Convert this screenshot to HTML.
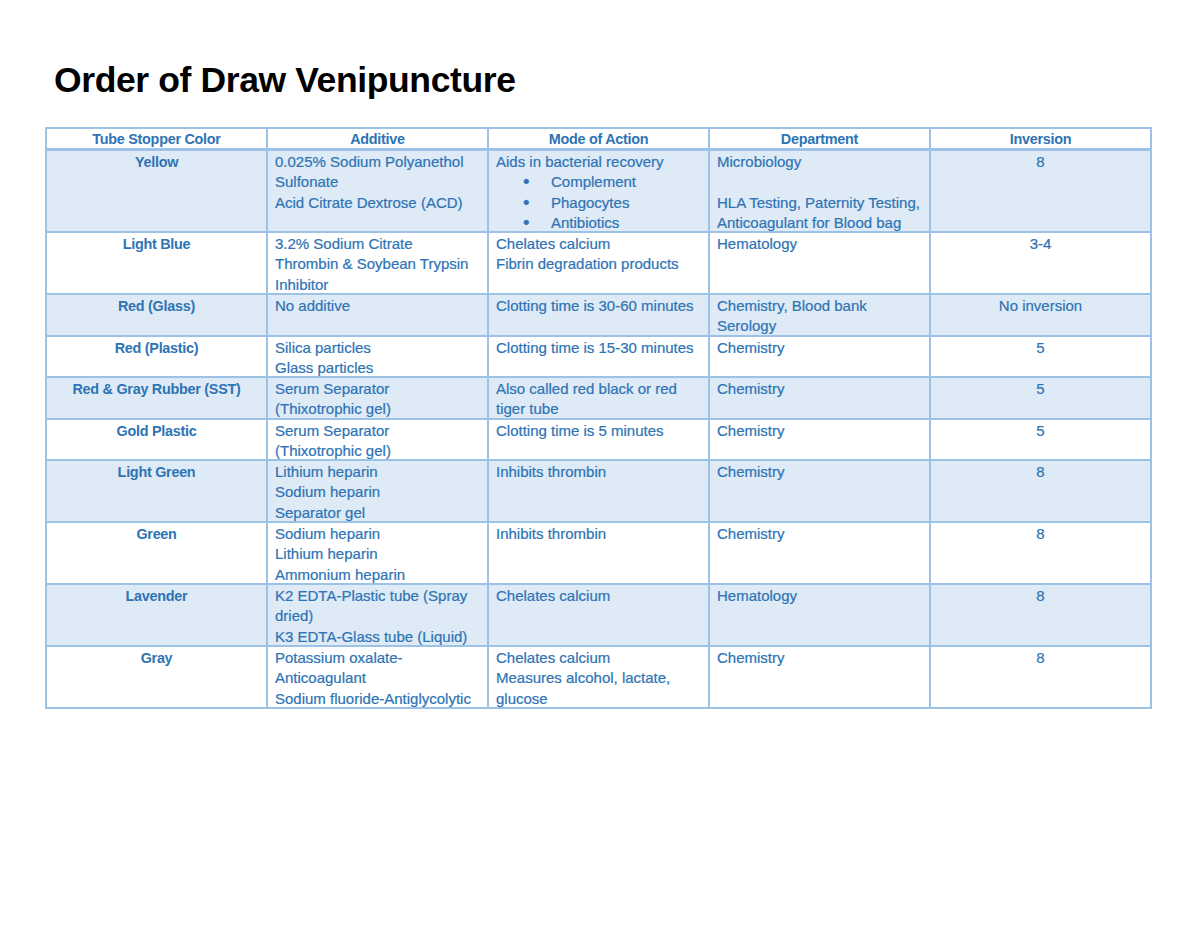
<!DOCTYPE html>
<html lang="en">
<head>
<meta charset="utf-8">
<title>Order of Draw Venipuncture</title>
<style>
  html, body { margin: 0; padding: 0; }
  body {
    width: 1200px; height: 927px; position: relative; overflow: hidden;
    background: #ffffff;
    font-family: "Liberation Sans", sans-serif;
  }
  h1 {
    position: absolute; left: 54px; top: 60px; margin: 0;
    font-size: 35.5px; line-height: 40px; letter-spacing: -0.38px; font-weight: bold; color: #000;
    white-space: nowrap;
  }
  table {
    position: absolute; left: 45px; top: 127px;
    width: 1107px; table-layout: fixed;
    border-collapse: separate; border-spacing: 0;
    border-left: 2px solid #9cc2e5; border-top: 2px solid #9cc2e5;
    color: #2e74b5;
    font-size: 15px; line-height: 20.4px;
    -webkit-text-stroke: 0.22px #2e74b5;
  }
  col { width: 221px; }
  th, td {
    box-sizing: border-box;
    border-right: 2px solid #9cc2e5; border-bottom: 2px solid #9cc2e5;
    padding: 1px 0 0 7px; vertical-align: top; text-align: left;
    font-weight: normal; white-space: nowrap;
  }
  th { border-bottom-width: 3px; font-weight: bold; text-align: center; padding: 0;
       font-size: 14.4px; letter-spacing: -0.27px; -webkit-text-stroke: 0; }
  td.c { font-weight: bold; text-align: center; padding: 1px 0 0 0; font-size: 14.4px; letter-spacing: -0.27px; -webkit-text-stroke: 0; }
  td.n { text-align: center; padding: 1px 0 0 0; }
  th::after, td::after { content: ""; display: block; height: 0; margin-bottom: -5px; }
  tr.b td { background: #deeaf6; }
  ul { list-style: none; margin: 0; padding: 0; }
  li { padding-left: 55px; position: relative; }
  li .dot { position: absolute; left: 27px; top: 0; font-size: 18.5px; line-height: 20.4px; }
</style>
</head>
<body>
<h1>Order of Draw Venipuncture</h1>
<table>
  <colgroup><col><col><col><col><col></colgroup>
  <thead>
    <tr style="height:22px"><th>Tube Stopper Color</th><th>Additive</th><th>Mode of Action</th><th>Department</th><th>Inversion</th></tr>
  </thead>
  <tbody>
    <tr class="b" style="height:82px">
      <td class="c">Yellow</td>
      <td>0.025% Sodium Polyanethol<br>Sulfonate<br>Acid Citrate Dextrose (ACD)</td>
      <td>Aids in bacterial recovery<ul><li><span class="dot">•</span>Complement</li><li><span class="dot">•</span>Phagocytes</li><li><span class="dot">•</span>Antibiotics</li></ul></td>
      <td>Microbiology<br><br>HLA Testing, Paternity Testing,<br>Anticoagulant for Blood bag</td>
      <td class="n">8</td>
    </tr>
    <tr style="height:62px">
      <td class="c">Light Blue</td>
      <td>3.2% Sodium Citrate<br>Thrombin &amp; Soybean Trypsin<br>Inhibitor</td>
      <td>Chelates calcium<br>Fibrin degradation products</td>
      <td>Hematology</td>
      <td class="n">3-4</td>
    </tr>
    <tr class="b" style="height:42px">
      <td class="c">Red (Glass)</td>
      <td>No additive</td>
      <td>Clotting time is 30-60 minutes</td>
      <td>Chemistry, Blood bank<br>Serology</td>
      <td class="n">No inversion</td>
    </tr>
    <tr style="height:41px">
      <td class="c">Red (Plastic)</td>
      <td>Silica particles<br>Glass particles</td>
      <td>Clotting time is 15-30 minutes</td>
      <td>Chemistry</td>
      <td class="n">5</td>
    </tr>
    <tr class="b" style="height:42px">
      <td class="c">Red &amp; Gray Rubber (SST)</td>
      <td>Serum Separator<br>(Thixotrophic gel)</td>
      <td>Also called red black or red<br>tiger tube</td>
      <td>Chemistry</td>
      <td class="n">5</td>
    </tr>
    <tr style="height:41px">
      <td class="c">Gold Plastic</td>
      <td>Serum Separator<br>(Thixotrophic gel)</td>
      <td>Clotting time is 5 minutes</td>
      <td>Chemistry</td>
      <td class="n">5</td>
    </tr>
    <tr class="b" style="height:62px">
      <td class="c">Light Green</td>
      <td>Lithium heparin<br>Sodium heparin<br>Separator gel</td>
      <td>Inhibits thrombin</td>
      <td>Chemistry</td>
      <td class="n">8</td>
    </tr>
    <tr style="height:62px">
      <td class="c">Green</td>
      <td>Sodium heparin<br>Lithium heparin<br>Ammonium heparin</td>
      <td>Inhibits thrombin</td>
      <td>Chemistry</td>
      <td class="n">8</td>
    </tr>
    <tr class="b" style="height:62px">
      <td class="c">Lavender</td>
      <td>K2 EDTA-Plastic tube (Spray<br>dried)<br>K3 EDTA-Glass tube (Liquid)</td>
      <td>Chelates calcium</td>
      <td>Hematology</td>
      <td class="n">8</td>
    </tr>
    <tr style="height:62px">
      <td class="c">Gray</td>
      <td>Potassium oxalate-<br>Anticoagulant<br>Sodium fluoride-Antiglycolytic</td>
      <td>Chelates calcium<br>Measures alcohol, lactate,<br>glucose</td>
      <td>Chemistry</td>
      <td class="n">8</td>
    </tr>
  </tbody>
</table>
</body>
</html>
